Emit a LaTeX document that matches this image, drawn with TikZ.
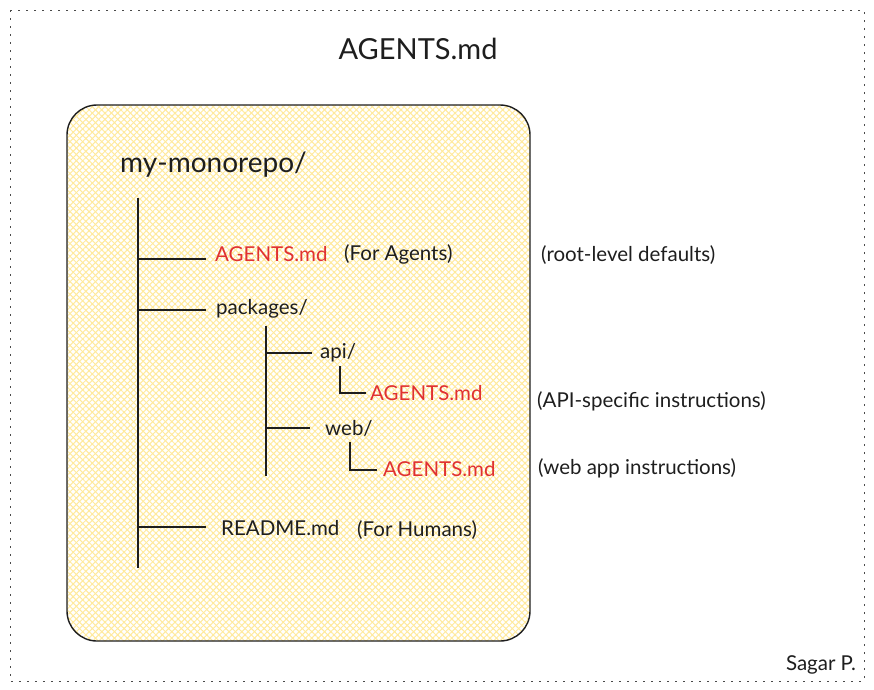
\documentclass[tikz,border=0pt]{standalone}
\usepackage{fontspec}
\setmainfont{Lato}
\usetikzlibrary{patterns.meta}
\definecolor{ink}{HTML}{1E1E1E}
\definecolor{redtxt}{HTML}{E03131}
\definecolor{hatch}{HTML}{FFEA9C}
\definecolor{frame}{HTML}{4A4A4A}
\tikzset{
  branch/.style={draw=ink, line width=1.6pt},
  plain/.style={anchor=west, inner sep=0pt, text=ink, font=\fontsize{20.5}{24}\selectfont},
  mdfile/.style={plain, text=redtxt},
  note/.style={plain},
}
\begin{document}
\begin{tikzpicture}[x=1pt,y=-1pt]
\useasboundingbox (0,0) rectangle (874,689);
% outer dotted frame
\draw[frame, line width=1pt, dash pattern=on 1.8pt off 6.2pt] (10,10) rectangle (864,681);
% repository panel with cross-hatched fill
\fill[white] (67,105) [rounded corners=30pt] rectangle (530,641);
\fill[pattern={Lines[angle=45,distance=4.5pt,line width=1pt]}, pattern color=hatch] (67,105) [rounded corners=30pt] rectangle (530,641);
\fill[pattern={Lines[angle=-45,distance=4.5pt,line width=1pt]}, pattern color=hatch] (67,105) [rounded corners=30pt] rectangle (530,641);
\draw[ink, line width=1.4pt, rounded corners=30pt] (67,105) rectangle (530,641);

% headings
\node[plain, anchor=center, font=\fontsize{29}{34}\selectfont] (title) at (418,49) {AGENTS.md};
\node[plain, font=\fontsize{28}{33}\selectfont] (root) at (120,165) {my-monorepo/};

% top-level entries
\node[mdfile] (rootmd) at (215,254) {AGENTS.md};
\node[note] (foragents) at (344,254) {(For Agents)};
\node[note] (rootnote) at (541,255) {(root-level defaults)};
\node[plain] (packages) at (216,309) {packages/};
\node[plain] (readme) at (221,528) {README.md};
\node[note] (forhumans) at (357,530) {(For Humans)};

% packages
\node[plain] (api) at (320,353) {api/};
\node[mdfile] (apimd) at (370,393) {AGENTS.md};
\node[note] (apinote) at (537,401) {(API-specific instructions)};
\node[plain] (web) at (325,428) {web/};
\node[mdfile] (webmd) at (383,469) {AGENTS.md};
\node[note] (webnote) at (538,468) {(web app instructions)};

\node[plain, anchor=east] (author) at (856,665) {Sagar P.};

% tree lines
\coordinate (trunkTop) at (138,198);
\coordinate (trunkBot) at (138,568);
\draw[branch] (trunkTop) -- (trunkBot);
\draw[branch] (138,259) -- (206,259);
\draw[branch] (138,310) -- (206,310);
\draw[branch] (138,527) -- (206,527);
\draw[branch] (266,326) -- (266,476);
\draw[branch] (266,353) -- (312,353);
\draw[branch] (266,428) -- (310,428);
\draw[branch] (340,366) -- (340,393) -- (366,393);
\draw[branch] (350,442) -- (350,470) -- (377,470);
\end{tikzpicture}
\end{document}
